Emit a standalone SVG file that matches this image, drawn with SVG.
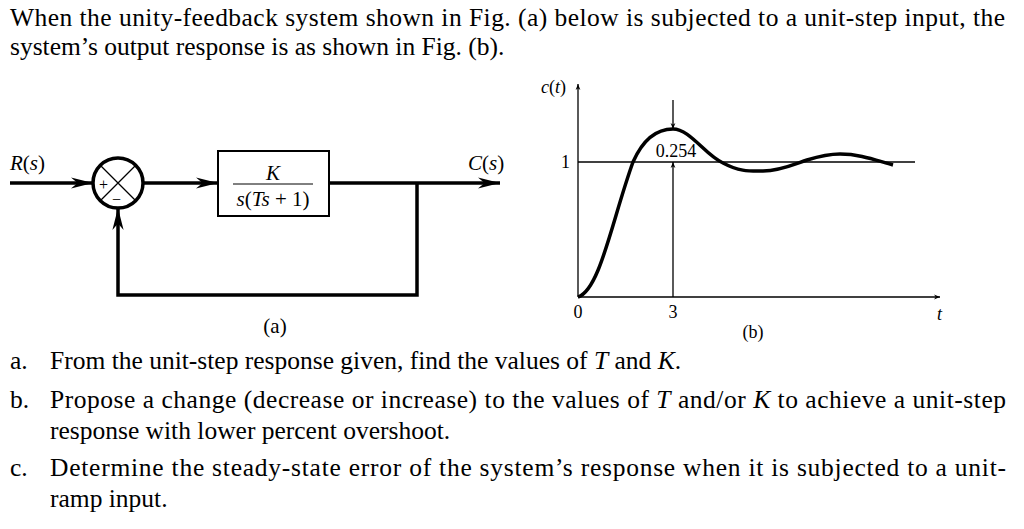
<svg xmlns="http://www.w3.org/2000/svg" width="1024" height="529" viewBox="0 0 1024 529">
<style>
text{font-family:"Liberation Serif",serif;fill:#000}
.t{font-size:25.5px}
.s{font-size:21px}
.th{stroke:#000;stroke-width:3.5;fill:none}
.tn{stroke:#000;stroke-width:1.3;fill:none}
</style>
<defs>
<marker id="a" viewBox="0 0 10 10" refX="10" refY="5" markerWidth="6" markerHeight="6" orient="auto" markerUnits="userSpaceOnUse"><path d="M0,1 L10,5 L0,9 L3,5z"/></marker>
<marker id="A" viewBox="0 0 10 10" refX="10" refY="5" markerWidth="22" markerHeight="14" orient="auto" markerUnits="userSpaceOnUse" preserveAspectRatio="none"><path d="M0,1 L10,5 L0,9 L3,5z"/></marker>
</defs>
<rect width="1024" height="529" fill="#fff"/>
<text class="t" x="10" y="26" textLength="995" lengthAdjust="spacing">When the unity-feedback system shown in Fig. (a) below is subjected to a unit-step input, the</text>
<text class="t" x="10" y="55">system’s output response is as shown in Fig. (b).</text>
<g id="sum"><circle cx="118" cy="183" r="25" class="th" stroke-width="2.5"/><path d="M100,165 L136,201 M136,165 L100,201" class="tn" stroke-width="2"/><text x="99" y="190" font-size="16">+</text><text x="112" y="205" font-size="16">−</text></g>
<g id="block"><rect x="218" y="151" width="111" height="65" fill="none" stroke="#000" stroke-width="2"/><text x="273" y="180" class="s" text-anchor="middle" font-style="italic">K</text><line x1="233" y1="184" x2="313" y2="184" stroke="#000" stroke-width="1"/><text x="273" y="206" class="s" text-anchor="middle"><tspan font-style="italic">s</tspan>(<tspan font-style="italic">Ts</tspan> + 1)</text></g>
<g id="connectors">
<line x1="10" y1="183" x2="93" y2="183" class="th" marker-end="url(#A)"/>
<line x1="143" y1="183" x2="218" y2="183" class="th" marker-end="url(#A)"/>
<line x1="329" y1="183" x2="500" y2="183" class="th" marker-end="url(#A)"/>
<polyline points="417,183 417,295 118,295 118,208" class="th" marker-end="url(#A)"/>
</g>
<text x="10" y="170" class="s"><tspan font-style="italic">R</tspan>(<tspan font-style="italic">s</tspan>)</text>
<text x="468" y="170" class="s"><tspan font-style="italic">C</tspan>(<tspan font-style="italic">s</tspan>)</text>
<text x="275" y="333" class="s" text-anchor="middle">(a)</text>
<g id="plot">
<line x1="578" y1="297" x2="578" y2="84" class="tn" stroke-width="2" marker-end="url(#a)"/>
<line x1="578" y1="297" x2="940" y2="297" class="tn" stroke-width="2" marker-end="url(#a)"/>
<line x1="578" y1="162" x2="915" y2="162" class="tn"/>
<line x1="673" y1="100" x2="673" y2="129" class="tn" marker-end="url(#a)"/>
<line x1="673" y1="297" x2="673" y2="162" class="tn" marker-end="url(#a)"/>
<path d="M578,297 C600,290 612,220 633,162 C645,135 660,129 673,129 C690,129 705,155 723,163 C740,172 750,171 763,171 C780,171 795,164 807,160 C820,156 830,154 840,154 C860,154 875,160 893,165" fill="none" stroke="#000" stroke-width="3.5"/>
<text x="541" y="93" font-size="18"><tspan font-style="italic">c</tspan>(<tspan font-style="italic">t</tspan>)</text>
<text x="676" y="157" font-size="18" text-anchor="middle">0.254</text>
<text x="561" y="168" font-size="18">1</text>
<text x="578" y="318" font-size="18" text-anchor="middle">0</text>
<text x="673" y="318" font-size="18" text-anchor="middle">3</text>
<text x="937" y="320" font-size="18" font-style="italic">t</text>
<text x="753" y="338" font-size="18" text-anchor="middle">(b)</text>
</g>
<text class="t" x="10" y="369">a.</text><text class="t" x="50" y="369">From the unit-step response given, find the values of <tspan font-style="italic">T</tspan> and <tspan font-style="italic">K</tspan>.</text>
<text class="t" x="10" y="408">b.</text><text class="t" x="50" y="408" textLength="956" lengthAdjust="spacing">Propose a change (decrease or increase) to the values of <tspan font-style="italic">T</tspan> and/or <tspan font-style="italic">K</tspan> to achieve a unit-step</text>
<text class="t" x="50" y="439">response with lower percent overshoot.</text>
<text class="t" x="10" y="476">c.</text><text class="t" x="50" y="476" textLength="956" lengthAdjust="spacing">Determine the steady-state error of the system’s response when it is subjected to a unit-</text>
<text class="t" x="50" y="507">ramp input.</text>
</svg>
